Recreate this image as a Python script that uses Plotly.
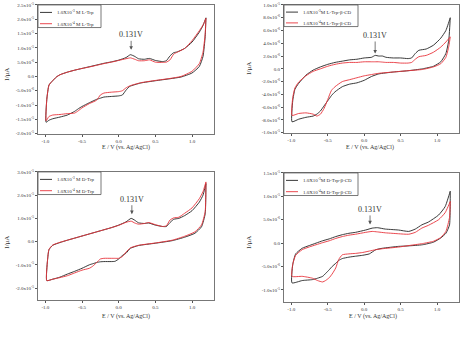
import plotly.graph_objects as go

# ---------------- data (current in units of 1e-6 A) ----------------
# Panel 1: L-Trp
p1_v_fwd = [-0.99, -0.98, -0.95, -0.9, -0.85, -0.8, -0.7, -0.6, -0.5, -0.4, -0.3, -0.2, -0.1, 0.0, 0.1, 0.16,
            0.22, 0.27, 0.35, 0.42, 0.5, 0.6, 0.65, 0.7, 0.75, 0.8, 0.9, 1.0, 1.1, 1.15, 1.19]
p1_black_fwd = [-16, -8, -3, -1.5, -0.2, 0.6, 1.5, 2.2, 2.8, 3.4, 4.0, 4.6, 5.1, 5.7, 6.6, 7.6,
                7.0, 6.2, 6.0, 6.3, 5.6, 5.2, 5.5, 7.2, 8.3, 8.6, 9.8, 12.0, 15.5, 17.8, 20.5]
p1_red_fwd = [-15.5, -8, -3, -1.5, -0.2, 0.6, 1.5, 2.2, 2.8, 3.3, 3.9, 4.5, 5.0, 5.6, 6.2, 6.5,
              6.0, 5.5, 5.5, 5.8, 5.0, 4.9, 5.0, 5.8, 7.8, 8.5, 9.8, 12.5, 16.0, 18.0, 20.3]
p1_v_rev = [1.19, 1.18, 1.15, 1.1, 1.0, 0.85, 0.7, 0.5, 0.3, 0.15, 0.1, 0.05, 0.0, -0.1, -0.2, -0.25,
            -0.3, -0.4, -0.5, -0.55, -0.6, -0.7, -0.8, -0.9, -0.95, -0.99]
p1_black_rev = [20.5, 14, 7, 3.5, 1.2, -0.2, -0.8, -1.5, -2.3, -3.5, -4.8, -6.5, -6.8, -7.0, -7.2, -7.6,
                -8.0, -9.2, -10.5, -11.3, -12.2, -13.5, -14.2, -14.8, -15.3, -16]
p1_red_rev = [20.3, 15, 8.5, 4.5, 1.8, 0.0, -0.7, -1.4, -2.2, -3.3, -4.0, -5.0, -5.3, -5.5, -5.8, -6.5,
              -8.3, -9.5, -11.0, -12.0, -12.8, -13.0, -13.3, -13.5, -14.0, -15.5]

# Panel 2: L-Trp-beta-CD
p2_v_fwd = [-0.99, -0.98, -0.95, -0.9, -0.8, -0.7, -0.6, -0.5, -0.4, -0.3, -0.2, -0.1, 0.0, 0.1, 0.15,
            0.2, 0.25, 0.3, 0.4, 0.5, 0.6, 0.65, 0.7, 0.75, 0.85, 0.95, 1.05, 1.12, 1.18]
p2_black_fwd = [-8.3, -5.0, -3.2, -2.3, -1.0, -0.2, 0.3, 0.7, 1.0, 1.2, 1.4, 1.5, 1.7, 1.8, 2.1,
                2.0, 2.0, 1.8, 1.7, 1.7, 1.6, 1.7, 2.4, 2.9, 3.1, 3.7, 4.8, 6.0, 8.0]
p2_red_fwd = [-7.3, -4.5, -3.0, -2.1, -1.1, -0.4, 0.0, 0.4, 0.7, 0.9, 1.0, 1.0, 1.1, 1.1, 1.1,
              1.1, 1.05, 1.0, 1.0, 0.9, 0.9, 1.0, 1.5, 1.9, 2.1, 2.6, 3.4, 4.2, 5.0]
p2_v_rev = [1.18, 1.16, 1.12, 1.05, 0.95, 0.8, 0.6, 0.4, 0.2, 0.1, 0.0, -0.1, -0.2, -0.3, -0.4, -0.45,
            -0.5, -0.55, -0.6, -0.65, -0.7, -0.8, -0.9, -0.99]
p2_black_rev = [8.0, 4.5, 2.4, 1.1, 0.4, 0.0, -0.3, -0.5, -0.8, -1.2, -1.8, -2.2, -2.4, -2.8, -3.6, -4.2,
                -5.0, -5.8, -6.6, -7.1, -7.4, -7.6, -7.9, -8.3]
p2_red_rev = [5.0, 3.5, 1.8, 0.8, 0.3, -0.1, -0.3, -0.5, -0.7, -0.9, -1.1, -1.4, -1.7, -2.0, -2.8, -3.4,
              -4.8, -6.2, -7.1, -7.4, -7.1, -6.9, -7.0, -7.3]

# Panel 3: D-Trp
p3_v_fwd = [-0.98, -0.97, -0.95, -0.9, -0.8, -0.7, -0.6, -0.5, -0.4, -0.3, -0.2, -0.1, 0.0, 0.1, 0.17,
            0.22, 0.27, 0.35, 0.41, 0.5, 0.6, 0.65, 0.7, 0.75, 0.82, 0.9, 1.0, 1.1, 1.15, 1.19]
p3_black_fwd = [-16.8, -8, -3.5, -1.6, -0.4, 0.6, 1.5, 2.4, 3.3, 4.2, 5.1, 6.0, 7.1, 8.5, 10.0,
                9.2, 8.1, 7.8, 8.0, 7.1, 6.5, 6.5, 8.2, 9.6, 10.0, 11.2, 13.3, 17.0, 20.0, 25.0]
p3_red_fwd = [-16.8, -8, -3.3, -1.5, -0.3, 0.6, 1.5, 2.4, 3.3, 4.2, 5.1, 6.0, 7.0, 8.3, 8.8,
              8.0, 7.5, 7.8, 8.2, 7.3, 6.5, 6.8, 9.3, 10.2, 10.5, 12.2, 14.5, 18.5, 21.5, 25.7]
p3_v_rev = [1.19, 1.18, 1.13, 1.04, 0.9, 0.73, 0.5, 0.27, 0.16, 0.1, 0.05, 0.0, -0.05, -0.1, -0.2,
            -0.25, -0.3, -0.35, -0.4, -0.5, -0.6, -0.7, -0.8, -0.9, -0.98]
p3_black_rev = [25.0, 12.0, 6.4, 3.6, 1.9, 0.4, -0.7, -1.7, -2.9, -5.0, -6.0, -7.5, -8.5, -8.6, -8.6,
                -8.7, -9.0, -9.5, -10.0, -11.5, -12.8, -14.0, -15.3, -16.2, -16.8]
p3_red_rev = [25.7, 13.0, 7.2, 4.2, 2.3, 0.6, -0.6, -1.6, -2.7, -4.5, -6.5, -7.2, -7.2, -7.2, -7.2,
              -7.5, -9.0, -10.5, -11.5, -12.3, -13.5, -14.7, -15.5, -16.2, -16.8]

# Panel 4: D-Trp-beta-CD
p4_v_fwd = [-0.99, -0.98, -0.94, -0.85, -0.75, -0.66, -0.57, -0.48, -0.39, -0.3, -0.21, -0.12, 0.02,
            0.11, 0.18, 0.29, 0.38, 0.47, 0.61, 0.7, 0.79, 0.88, 1.02, 1.11, 1.18]
p4_black_fwd = [-8.5, -4.6, -2.3, -1.1, -0.5, 0.0, 0.5, 0.9, 1.4, 1.8, 2.1, 2.3, 2.8,
                3.2, 3.3, 3.0, 2.9, 2.8, 2.5, 3.0, 3.9, 4.5, 6.0, 7.8, 11.1]
p4_red_fwd = [-7.1, -4.5, -2.6, -1.4, -0.8, -0.35, 0.1, 0.5, 1.0, 1.4, 1.7, 1.9, 2.3,
              2.5, 2.4, 2.2, 2.1, 2.0, 1.9, 2.3, 3.2, 3.8, 5.0, 6.5, 8.9]
p4_v_rev = [1.18, 1.17, 1.12, 1.05, 0.95, 0.8, 0.6, 0.47, 0.25, 0.16, 0.07, -0.02, -0.12, -0.21, -0.3,
            -0.35, -0.39, -0.44, -0.48, -0.53, -0.57, -0.64, -0.71, -0.85, -0.99]
p4_black_rev = [11.1, 3.9, 2.1, 1.1, 0.2, -0.35, -0.6, -0.7, -1.1, -1.4, -2.3, -2.6, -2.8, -3.0, -3.3,
                -3.7, -4.3, -5.0, -5.7, -6.5, -7.1, -7.5, -7.8, -8.0, -8.5]
p4_red_rev = [8.9, 5.5, 2.5, 1.2, 0.4, -0.1, -0.55, -0.85, -1.2, -1.4, -1.7, -2.0, -2.2, -2.3, -2.5,
              -3.5, -5.3, -6.6, -7.4, -8.0, -8.3, -8.0, -7.5, -7.1, -7.1]

legend_names = [
    ["1.0X10<sup>-3</sup> M L-Trp", "1.0X10<sup>-4</sup> M L-Trp"],
    ["1.0X10<sup>-3</sup>M L-Trp-β-CD", "1.0X10<sup>-4</sup>M L-Trp-β-CD"],
    ["1.0X10<sup>-3</sup> M D-Trp", "1.0X10<sup>-4</sup> M D-Trp"],
    ["1.0X10<sup>-3</sup>M D-Trp-β-CD", "1.0X10<sup>-4</sup>M D-Trp-β-CD"],
]

x_ticks = [-1.0, -0.5, 0.0, 0.5, 1.0]
x_ticktext = ["-1.0", "-0.5", "0.0", "0.5", "1.0"]

p1_yticks = [25, 20, 15, 10, 5, 0, -5, -10, -15, -20]
p1_yticktext = ["2.5x10<sup>-5</sup>", "2.0x10<sup>-5</sup>", "1.5x10<sup>-5</sup>", "1.0x10<sup>-5</sup>",
                "5.0x10<sup>-6</sup>", "0.0", "-5.0x10<sup>-6</sup>", "-1.0x10<sup>-5</sup>",
                "-1.5x10<sup>-5</sup>", "-2.0x10<sup>-5</sup>"]
p2_yticks = [10, 8, 6, 4, 2, 0, -2, -4, -6, -8, -10]
p2_yticktext = ["1.0x10<sup>-5</sup>", "8.0x10<sup>-6</sup>", "6.0x10<sup>-6</sup>", "4.0x10<sup>-6</sup>",
                "2.0x10<sup>-6</sup>", "0.0", "-2.0x10<sup>-6</sup>", "-4.0x10<sup>-6</sup>",
                "-6.0x10<sup>-6</sup>", "-8.0x10<sup>-6</sup>", "-1.0x10<sup>-5</sup>"]
p3_yticks = [30, 20, 10, 0, -10, -20]
p3_yticktext = ["3.0x10<sup>-5</sup>", "2.0x10<sup>-5</sup>", "1.0x10<sup>-5</sup>", "0.0",
                "-1.0x10<sup>-5</sup>", "-2.0x10<sup>-5</sup>"]
p4_yticks = [15, 10, 5, 0, -5, -10]
p4_yticktext = ["1.5x10<sup>-5</sup>", "1.0x10<sup>-5</sup>", "5.0x10<sup>-6</sup>", "0.0",
                "-5.0x10<sup>-6</sup>", "-1.0x10<sup>-5</sup>"]

peak_label = "0.131V"
x_title = "E / V (vs. Ag/AgCl)"
y_title = "I/μA"

# ---------------- figure ----------------
BLACK = "#222222"
RED = "#e8333b"
FONT = "Liberation Serif"
TXT = "#333333"
W, H = 474, 338

panels = [
    dict(vf=p1_v_fwd, bf=p1_black_fwd, rf=p1_red_fwd, vr=p1_v_rev, br=p1_black_rev, rr=p1_red_rev,
         yt=p1_yticks, ytt=p1_yticktext, yr=[-20, 25], box=(38, 214, 2, 133),
         arrow=(0.17, 9.3, -15), xt=(126, 147), yl=(7, 73), leg=(38, 101, 2, 25)),
    dict(vf=p2_v_fwd, bf=p2_black_fwd, rf=p2_red_fwd, vr=p2_v_rev, br=p2_black_rev, rr=p2_red_rev,
         yt=p2_yticks, ytt=p2_yticktext, yr=[-10, 10], box=(284, 459, 2, 132),
         arrow=(0.15, 2.4, -18), xt=(370, 147), yl=(249, 67), leg=(284, 358, 2, 24)),
    dict(vf=p3_v_fwd, bf=p3_black_fwd, rf=p3_red_fwd, vr=p3_v_rev, br=p3_black_rev, rr=p3_red_rev,
         yt=p3_yticks, ytt=p3_yticktext, yr=[-25, 30], box=(38, 214, 172, 302),
         arrow=(0.18, 11.8, -15), xt=(126, 319), yl=(7, 244), leg=(38, 101, 172, 195)),
    dict(vf=p4_v_fwd, bf=p4_black_fwd, rf=p4_red_fwd, vr=p4_v_rev, br=p4_black_rev, rr=p4_red_rev,
         yt=p4_yticks, ytt=p4_yticktext, yr=[-12.5, 15], box=(284, 459, 173, 304),
         arrow=(0.08, 4.0, -15), xt=(373, 319), yl=(249, 244), leg=(284, 358, 173, 196)),
]

fig = go.Figure()
layout = dict(
    width=W, height=H, margin=dict(l=0, r=0, t=0, b=0),
    paper_bgcolor="white", plot_bgcolor="white",
    font=dict(family=FONT, size=5, color=TXT),
    showlegend=False,
)
annotations = []
shapes = []


def px(x):
    return x / W


def py(y):
    return 1 - y / H


for i, p in enumerate(panels, start=1):
    sfx = "" if i == 1 else str(i)
    xa, ya = "x" + sfx, "y" + sfx
    x0, x1, y0, y1 = p["box"]
    fig.add_trace(go.Scatter(x=p["vf"] + p["vr"], y=p["bf"] + p["br"], mode="lines",
                             line=dict(color=BLACK, width=0.9, shape="spline", smoothing=0.5),
                             name=legend_names[i - 1][0], xaxis=xa, yaxis=ya))
    fig.add_trace(go.Scatter(x=p["vf"] + p["vr"], y=p["rf"] + p["rr"], mode="lines",
                             line=dict(color=RED, width=0.9, shape="spline", smoothing=0.5),
                             name=legend_names[i - 1][1], xaxis=xa, yaxis=ya))
    axcommon = dict(showline=True, mirror=True, linecolor="#777777", linewidth=1,
                    ticks="outside", ticklen=2, tickwidth=0.8, tickcolor="#555555",
                    showgrid=False, zeroline=False, tickfont=dict(size=5, family=FONT, color=TXT))
    layout["xaxis" + sfx] = dict(axcommon, domain=[px(x0), px(x1)], range=[-1.1, 1.3],
                                 tickvals=x_ticks, ticktext=x_ticktext, anchor=ya)
    layout["yaxis" + sfx] = dict(axcommon, domain=[py(y1), py(y0)], range=p["yr"],
                                 tickvals=p["yt"], ticktext=p["ytt"], anchor=xa)

    # legend box (drawn in paper space, compact like the original)
    lx0, lx1, ly0, ly1 = p["leg"]
    shapes.append(dict(type="rect", xref="paper", yref="paper", x0=px(lx0), x1=px(lx1),
                       y0=py(ly1), y1=py(ly0), line=dict(color="#555555", width=0.8),
                       fillcolor="white", layer="above"))
    rows = [ly0 + 0.33 * (ly1 - ly0), ly0 + 0.83 * (ly1 - ly0)]
    for name, col, ry in zip(legend_names[i - 1], [BLACK, RED], rows):
        shapes.append(dict(type="line", xref="paper", yref="paper", x0=px(lx0 + 2), x1=px(lx0 + 14),
                           y0=py(ry), y1=py(ry), line=dict(color=col, width=0.9), layer="above"))
        annotations.append(dict(x=px(lx0 + 17), y=py(ry), xref="paper", yref="paper", text=name,
                                showarrow=False, xanchor="left", yanchor="middle",
                                font=dict(size=5, family=FONT, color=TXT)))

    ax_, ay_, off = p["arrow"]
    annotations.append(dict(x=ax_, y=ay_, xref=xa, yref=ya, text=peak_label, showarrow=True,
                            ax=0, ay=off, arrowhead=2, arrowsize=0.9, arrowwidth=0.8,
                            arrowcolor="#555555", font=dict(size=8, family=FONT, color=TXT)))
    tx, ty = p["xt"]
    annotations.append(dict(x=px(tx), y=py(ty), xref="paper", yref="paper", text=x_title,
                            showarrow=False, xanchor="center", yanchor="middle",
                            font=dict(size=6, family=FONT, color=TXT)))
    lx, ly = p["yl"]
    annotations.append(dict(x=px(lx), y=py(ly), xref="paper", yref="paper", text=y_title,
                            showarrow=False, textangle=-90, xanchor="center", yanchor="middle",
                            font=dict(size=7, family=FONT, color=TXT)))

layout["annotations"] = annotations
layout["shapes"] = shapes
fig.update_layout(**layout)
fig.write_html("out.html")
